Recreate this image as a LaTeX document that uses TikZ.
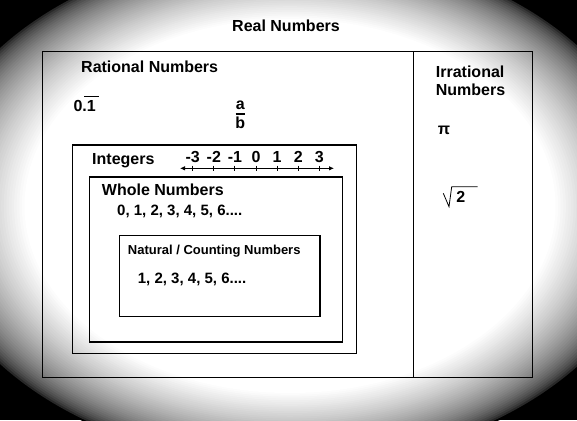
\documentclass[tikz,border=0pt]{standalone}
\usepackage{fontspec}
\setmainfont{Liberation Sans}
\usetikzlibrary{arrows.meta,calc}
\tikzset{
  box/.style={draw=black, line width=1.3pt},
  lbl/.style={inner sep=0pt, font=\fontsize{16}{18}\selectfont\bfseries},
  nums/.style={inner sep=0pt, font=\fontsize{15}{17}\selectfont\bfseries},
  small/.style={inner sep=0pt, font=\fontsize{13}{15}\selectfont\bfseries},
  thin/.style={draw=black, line width=0.9pt},
}
\begin{document}
\begin{tikzpicture}[x=1pt,y=-1pt]
\useasboundingbox (0,0) rectangle (577,420);
\begin{scope}
\clip (0,0) rectangle (577,420);
\fill[black] (0,0) rectangle (577,420);
\coordinate (vc) at (290,206);
\foreach \k in {0,...,40} {
  \pgfmathsetmacro{\f}{1.07-0.0075*\k}
  \pgfmathsetmacro{\lv}{100*sqrt(\k/40)}
  \fill[white!\lv!black] (vc) ellipse [x radius={345*\f}, y radius={243*\f}];
}
\end{scope}

% title
\node[lbl, anchor=base] (real) at (286,31.7) {Real Numbers};

% outer rectangle and divider
\node[box, inner sep=0pt, minimum width=490pt, minimum height=326pt, anchor=north west] (outer) at (41.5,51) {};
\coordinate (dtop) at (413.5,51);
\coordinate (dbot) at (413.5,377);
\draw[box] (dtop) -- (dbot);

% rational
\node[lbl, anchor=base west] (rational) at (81,72.4) {Rational Numbers};
\node[lbl, anchor=base west] (rep) at (73.3,111.4) {0.1};
\coordinate (ovl) at (84,96.7);
\coordinate (ovr) at (99,96.7);
\draw[thin] (ovl) -- (ovr);
\node[lbl, anchor=base] (na) at (240.3,109) {a};
\node[lbl, anchor=base] (nb) at (240.3,128.3) {b};
\coordinate (fl) at (235.7,114);
\coordinate (fr) at (245,114);
\draw[black, line width=1.6pt] (fl) -- (fr);

% integers
\node[box, inner sep=0pt, minimum width=284.3pt, minimum height=208.4pt, anchor=north west] (intbox) at (71.7,144.3) {};
\node[lbl, anchor=base west] (integers) at (92,164.7) {Integers};
\coordinate (nlL) at (180,168.3);
\coordinate (nlR) at (334,168.3);
\draw[black, line width=0.9pt, {Latex[length=5pt,width=4.5pt]}-{Latex[length=5pt,width=4.5pt]}] (nlL) -- (nlR);
\foreach \v [count=\i from 0] in {-3,-2,-1,0,1,2,3} {
  \coordinate (t\i) at ({192.7+21.1*\i},168.3);
  \draw[black, line width=0.9pt] ($(t\i)+(0,-2.8)$) -- ($(t\i)+(0,2.8)$);
  \node[lbl, anchor=base] (l\i) at ({192.7+21.1*\i},162.5) {\v};
}

% whole
\node[box, inner sep=0pt, minimum width=253pt, minimum height=165pt, anchor=north west] (wholebox) at (88.7,176.3) {};
\node[lbl, anchor=base west] (whole) at (101.7,195) {Whole Numbers};
\node[nums, anchor=base west] (wholenums) at (117,215.5) {0, 1, 2, 3, 4, 5, 6....};

% natural
\node[box, inner sep=0pt, minimum width=200.6pt, minimum height=81.3pt, anchor=north west] (natbox) at (118.7,234.7) {};
\node[small, anchor=base west] (natural) at (127.7,254) {Natural / Counting Numbers};
\node[nums, anchor=base west] (natnums) at (137.7,283.7) {1, 2, 3, 4, 5, 6....};

% irrational
\node[lbl, anchor=base west] (irr1) at (435.7,77.4) {Irrational};
\node[lbl, anchor=base west] (irr2) at (435.7,95.7) {Numbers};
\node[lbl, anchor=base] (pi) at (444,134.5) {π};
\coordinate (r1) at (443.3,193.3);
\coordinate (r2) at (449,206.7);
\coordinate (r3) at (451.7,186.7);
\coordinate (r4) at (477.7,186.7);
\draw[thin, line width=0.8pt] (r1) -- (r2) -- (r3) -- (r4);
\node[lbl, anchor=base] (two) at (460.7,202.7) {2};
\end{tikzpicture}
\end{document}
